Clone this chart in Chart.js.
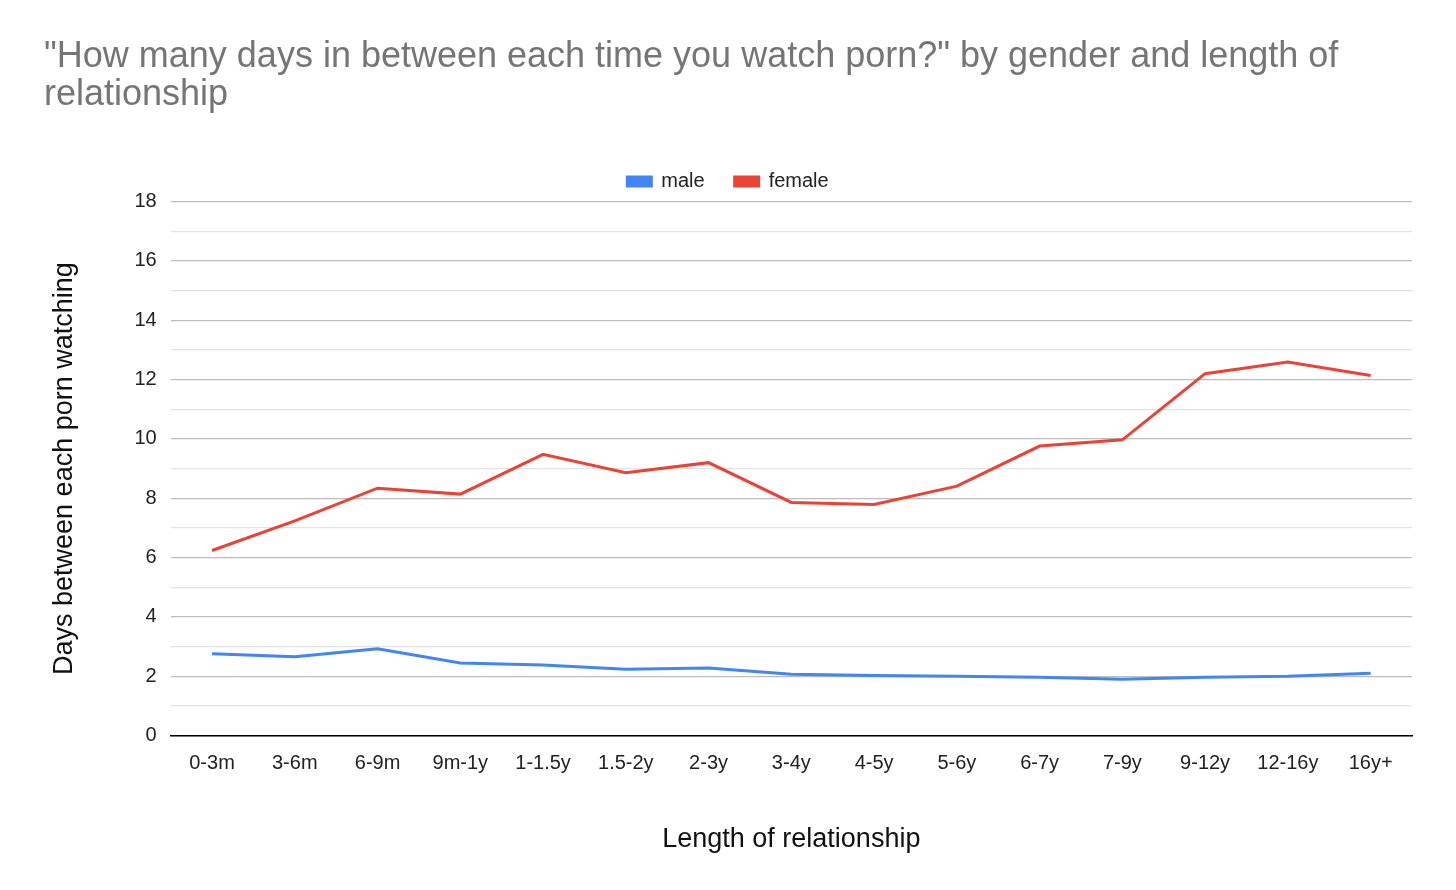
<!DOCTYPE html>
<html>
<head>
<meta charset="utf-8">
<script src="https://cdn.jsdelivr.net/npm/chart.js@4"></script>
<style>
  html, body { margin: 0; padding: 0; background: #fff; }
  #wrap { width: 1456px; height: 890px; position: relative; }
</style>
</head>
<body>
<div id="wrap"><canvas id="myChart" width="1456" height="890"></canvas></div>
<script>
const categories = ["0-3m", "3-6m", "6-9m", "9m-1y", "1-1.5y", "1.5-2y", "2-3y", "3-4y", "4-5y", "5-6y", "6-7y", "7-9y", "9-12y", "12-16y", "16y+"];
const maleValues = [2.76, 2.66, 2.93, 2.45, 2.38, 2.24, 2.28, 2.07, 2.03, 2.0, 1.97, 1.9, 1.97, 2.0, 2.1];
const femaleValues = [6.24, 7.24, 8.34, 8.14, 9.48, 8.86, 9.2, 7.86, 7.79, 8.41, 9.76, 9.97, 12.2, 12.59, 12.14];

const ctx = document.getElementById('myChart').getContext('2d');
new Chart(ctx, {
    type: 'line',
    data: {
        labels: categories,
        datasets: [{
            label: "male",
            data: maleValues,
            borderColor: "#4285f4",
            backgroundColor: "#4285f4",
            borderWidth: 3,
            pointRadius: 0,
            tension: 0
        }, {
            label: "female",
            data: femaleValues,
            borderColor: "#ea4335",
            backgroundColor: "#ea4335",
            borderWidth: 3,
            pointRadius: 0,
            tension: 0
        }]
    },
    options: {
        responsive: false,
        animation: false,
        layout: { padding: { left: 44, right: 44, top: 28, bottom: 30 } },
        plugins: {
            title: {
                display: true,
                text: ['"How many days in between each time you watch porn?" by gender and length of', 'relationship'],
                align: 'start',
                color: '#757575',
                font: { family: 'Arial, Liberation Sans, sans-serif', size: 36, weight: 'normal', lineHeight: 1.05 },
                padding: { top: 10, bottom: 28 }
            },
            legend: {
                labels: {
                    boxWidth: 24,
                    boxHeight: 9,
                    color: '#222',
                    font: { family: 'Arial, Liberation Sans, sans-serif', size: 20 },
                    padding: 30
                }
            },
            tooltip: { enabled: false }
        },
        scales: {
            x: {
                offset: true,
                grid: { display: false },
                border: { color: '#000', width: 1.5 },
                ticks: { color: '#222', font: { family: 'Arial, Liberation Sans, sans-serif', size: 20 }, maxRotation: 0, autoSkip: false, padding: 8 },
                title: { display: true, text: 'Length of relationship', color: '#111', font: { family: 'Arial, Liberation Sans, sans-serif', size: 27 }, padding: { top: 40 } }
            },
            y: {
                min: 0,
                max: 18,
                ticks: {
                    stepSize: 1,
                    color: '#222',
                    font: { family: 'Arial, Liberation Sans, sans-serif', size: 20 },
                    padding: 14,
                    callback: v => v % 2 === 0 ? v : ''
                },
                grid: {
                    drawTicks: false,
                    color: c => c.tick.value % 2 === 0 ? '#bdbdbd' : '#e3e3e3',
                    lineWidth: 1.2
                },
                border: { display: false },
                title: { display: true, text: 'Days between each porn watching', color: '#111', font: { family: 'Arial, Liberation Sans, sans-serif', size: 27 }, padding: { bottom: 40 } }
            }
        }
    }
});
</script>
</body>
</html>
